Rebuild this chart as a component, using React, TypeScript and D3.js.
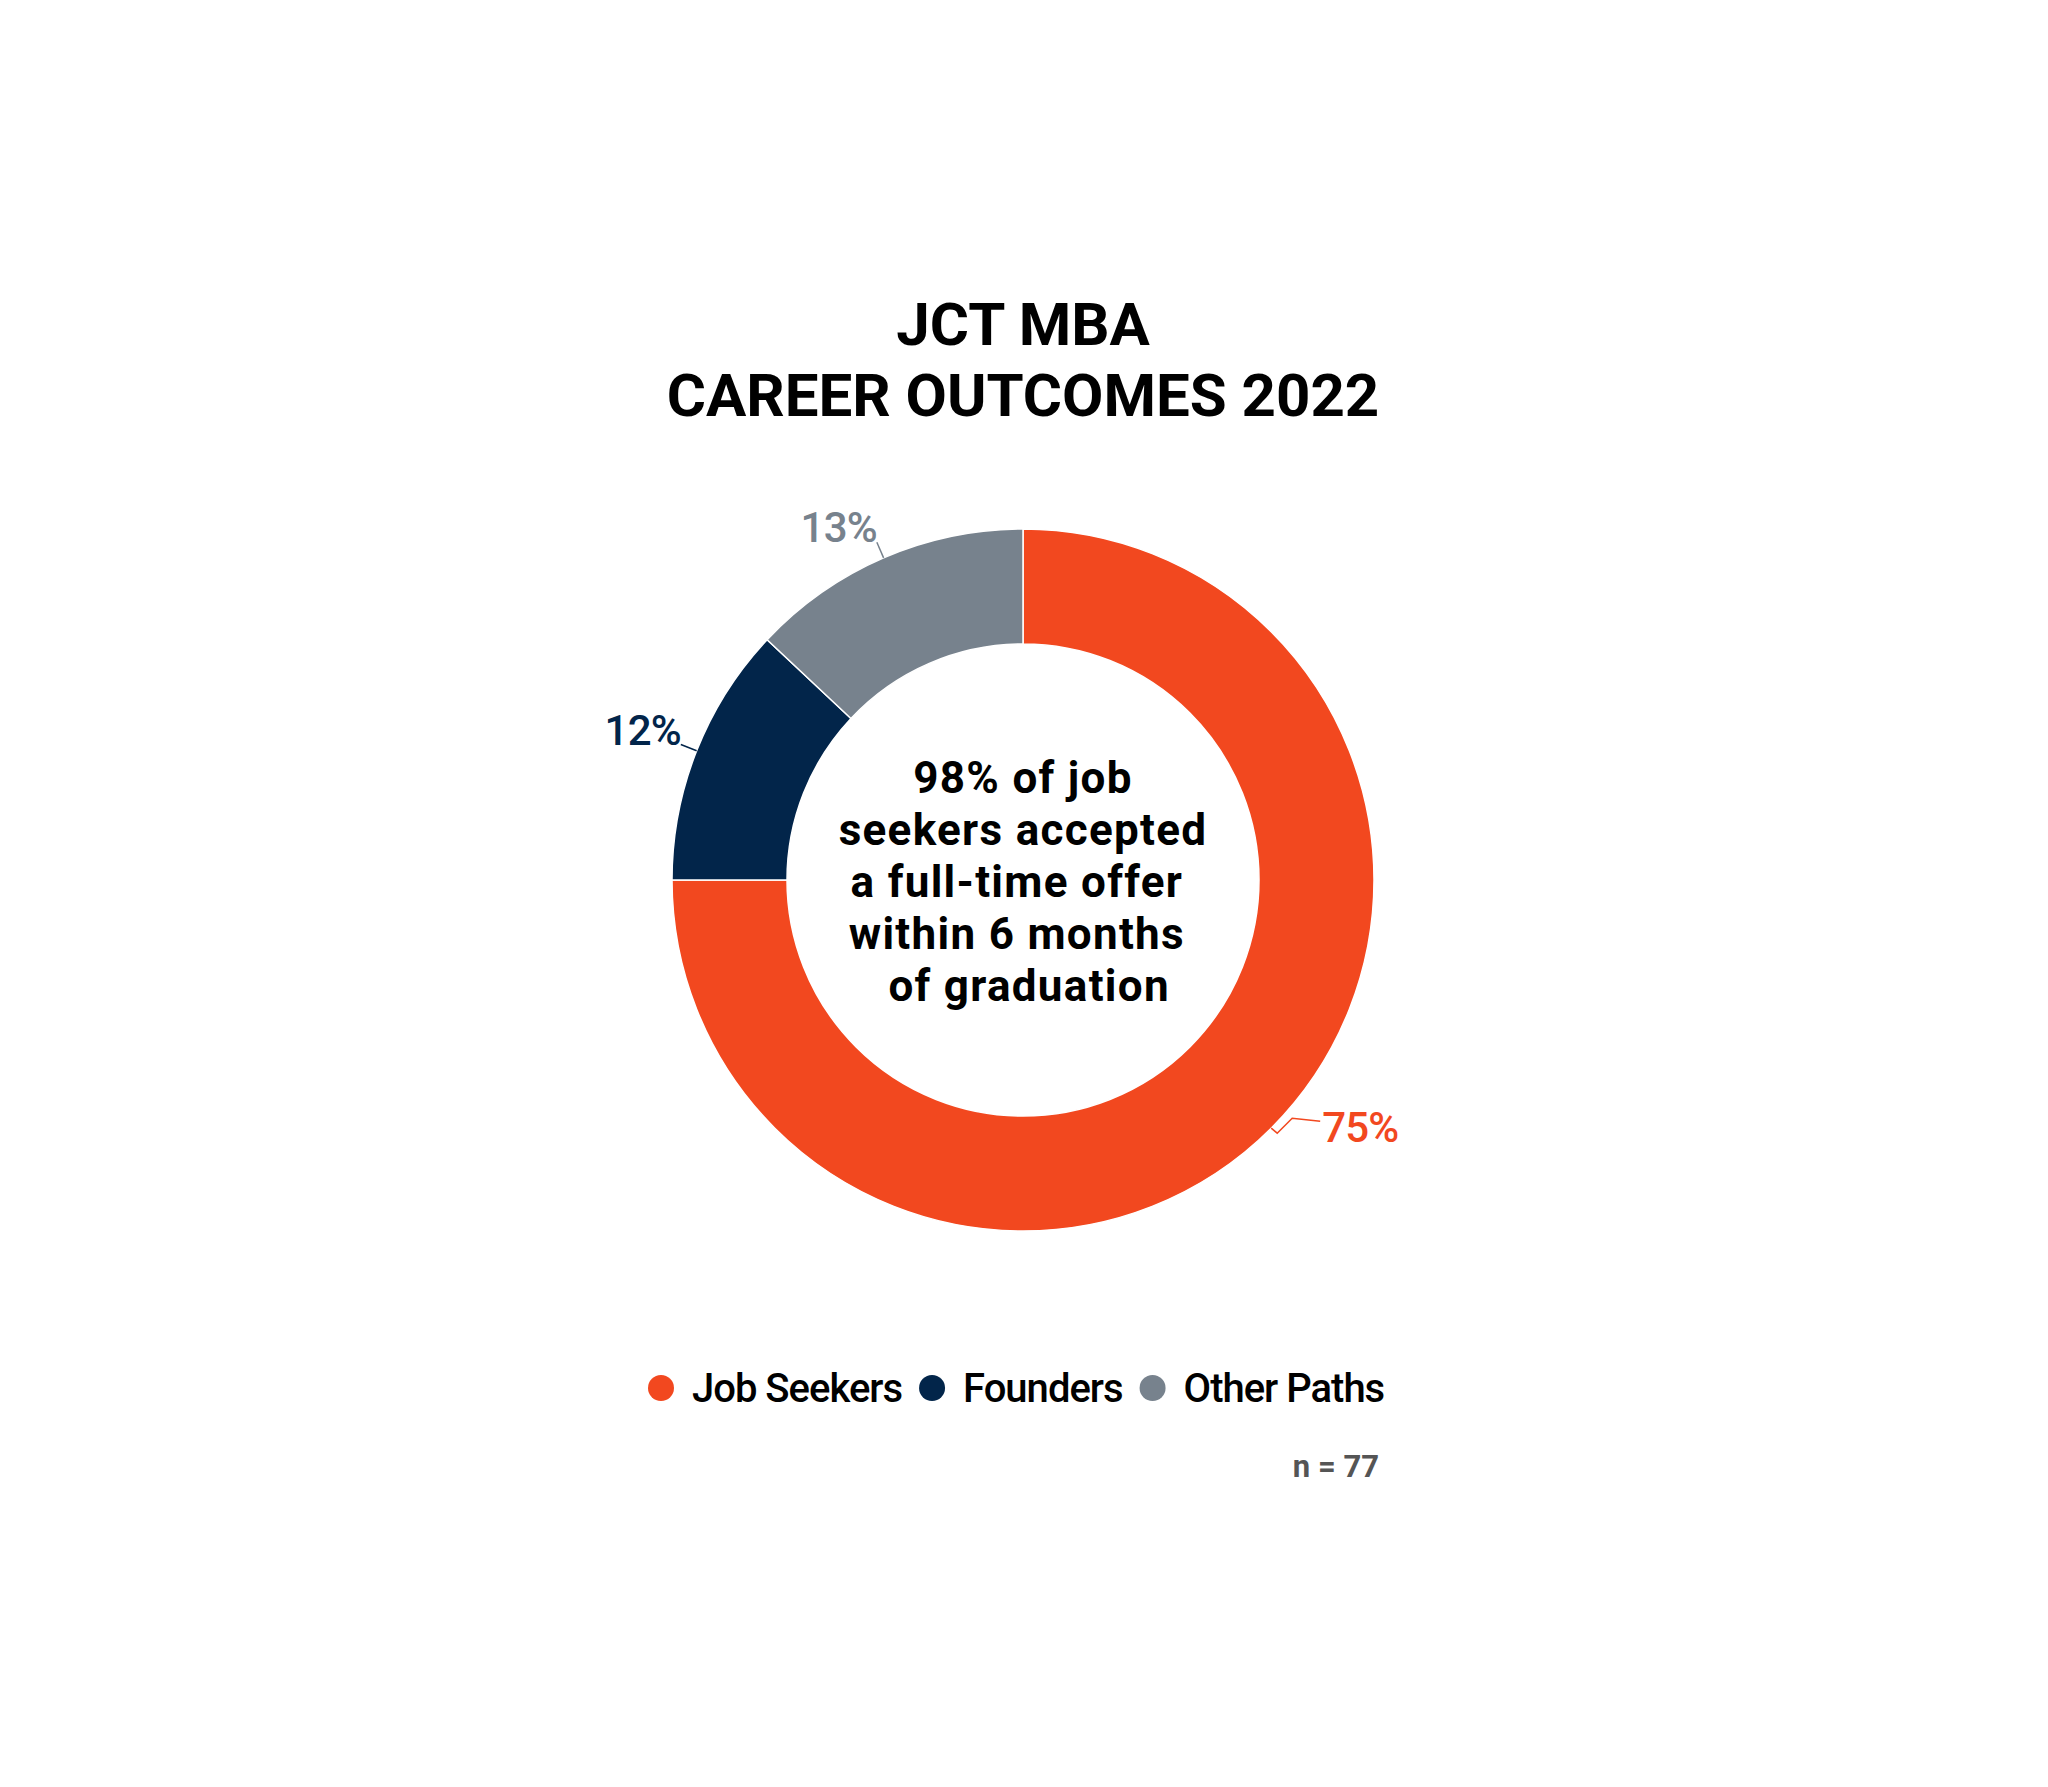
import React, { useEffect, useRef } from "react";
import * as d3 from "d3";

const categories = ["Job Seekers", "Founders", "Other Paths"];
const values = [75, 12, 13];
const colors = ["#F2481F", "#02254A", "#77828D"];
const titleLines = ["JCT MBA", "CAREER OUTCOMES 2022"];
const centerLines = ["98% of job", "seekers accepted", "a full-time offer ", "within 6 months ", " of graduation"];
const sampleNote = "n = 77";

const W = 2048;
const H = 1787;
const FONT = "Roboto, 'Noto Sans', sans-serif";

export default function App() {
  const ref = useRef<SVGSVGElement | null>(null);

  useEffect(() => {
    const svg = d3.select(ref.current);
    svg.selectAll("*").remove();

    const cx = 1023;
    const cy = 880;
    const outerR = 351;
    const innerR = 236;

    // Title
    svg
      .append("g")
      .selectAll("text")
      .data(titleLines)
      .join("text")
      .attr("x", cx)
      .attr("y", (_d, i) => 345 + i * 71)
      .attr("text-anchor", "middle")
      .attr("font-family", FONT)
      .attr("font-weight", 700)
      .attr("font-size", 60)
      .attr("letter-spacing", 0)
      .attr("fill", "#000")
      .text((d) => d);

    const pie = d3
      .pie<number>()
      .sort(null)
      .value((d) => d);
    const arcs = pie(values);
    const arc = d3.arc<d3.PieArcDatum<number>>().innerRadius(innerR).outerRadius(outerR);

    const g = svg.append("g").attr("transform", `translate(${cx},${cy})`);
    g.selectAll("path")
      .data(arcs)
      .join("path")
      .attr("d", arc as any)
      .attr("fill", (_d, i) => colors[i])
      .attr("stroke", "#fff")
      .attr("stroke-width", 1.5);

    // Labels
    arcs.forEach((a, i) => {
      const mid = (a.startAngle + a.endAngle) / 2;
      const sx = Math.sin(mid);
      const sy = -Math.cos(mid);
      const px = outerR * sx;
      const py = outerR * sy;
      const label = `${values[i]}%`;
      if (i === 0) {
        const pts: [number, number][] = [
          [px, py],
          [px + 6, py + 5],
          [px + 21, py - 10],
          [px + 49, py - 7],
        ];
        g.append("path")
          .attr("d", d3.line()(pts) as string)
          .attr("fill", "none")
          .attr("stroke", colors[i])
          .attr("stroke-width", 1.5);
        g.append("text")
          .attr("x", px + 51)
          .attr("y", py + 14)
          .attr("text-anchor", "start")
          .attr("font-family", FONT)
          .attr("font-weight", 500)
          .attr("font-size", 42)
          .attr("letter-spacing", -0.8)
          .attr("fill", colors[i])
          .text(label);
      } else {
        const ex = (outerR + 17) * sx;
        const ey = (outerR + 17) * sy;
        g.append("line")
          .attr("x1", px)
          .attr("y1", py)
          .attr("x2", ex)
          .attr("y2", ey)
          .attr("stroke", colors[i])
          .attr("stroke-width", 1.5);
        g.append("text")
          .attr("x", ex)
          .attr("y", ey)
          .attr("text-anchor", "end")
          .attr("font-family", FONT)
          .attr("font-weight", 500)
          .attr("font-size", 42)
          .attr("letter-spacing", -0.8)
          .attr("fill", colors[i])
          .text(label);
      }
    });

    // Center text
    g.append("g")
      .selectAll("text")
      .data(centerLines)
      .join("text")
      .attr("x", 0)
      .attr("y", (_d, i) => -87 + i * 52)
      .attr("text-anchor", "middle")
      .attr("xml:space", "preserve")
      .style("white-space", "pre")
      .attr("font-family", FONT)
      .attr("font-weight", 700)
      .attr("font-size", 44)
      .attr("letter-spacing", 1.3)
      .attr("fill", "#000")
      .text((d) => d);

    // Legend
    const lg = svg.append("g");
    const circleR = 13;
    const textGap = 31;
    const itemGap = 30;
    let x = 661;
    categories.forEach((c, i) => {
      lg.append("circle")
        .attr("cx", x)
        .attr("cy", 1388)
        .attr("r", circleR)
        .attr("fill", colors[i]);
      const t = lg
        .append("text")
        .attr("font-family", FONT)
        .attr("font-weight", 500)
        .attr("font-size", 40)
        .attr("letter-spacing", -1)
        .attr("fill", "#000")
        .attr("x", x + textGap)
        .attr("y", 1402)
        .text(c);
      const w = (t.node() as SVGTextElement).getComputedTextLength();
      x = x + textGap + w + itemGap;
    });

    svg
      .append("text")
      .attr("x", 1379)
      .attr("y", 1477)
      .attr("text-anchor", "end")
      .attr("font-family", FONT)
      .attr("font-weight", 700)
      .attr("font-size", 31)
      .attr("fill", "#555555")
      .text(sampleNote);
  }, []);

  return (
    <svg
      ref={ref}
      width={W}
      height={H}
      viewBox={`0 0 ${W} ${H}`}
      style={{ position: "absolute", left: 0, top: 0, background: "#fff", display: "block" }}
    />
  );
}
